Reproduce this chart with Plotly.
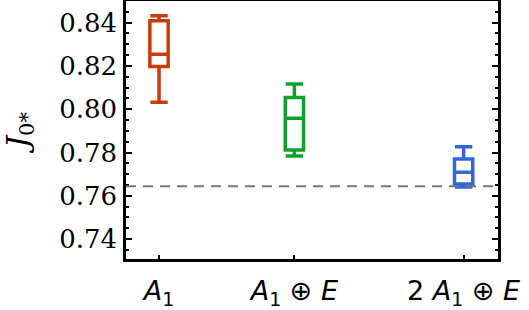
import plotly.graph_objects as go

# Data
categories = ["<i>A</i><sub>1</sub>", "<i>A</i><sub>1</sub> ⊕ <i>E</i>", "2 <i>A</i><sub>1</sub> ⊕ <i>E</i>"]
positions = [1.0, 2.0, 3.25]
lower = [0.8032, 0.7784, 0.7641]
q1 = [0.8197, 0.7812, 0.7654]
median = [0.8254, 0.7958, 0.7709]
q3 = [0.8409, 0.8054, 0.7770]
upper = [0.8432, 0.8117, 0.7827]
colors = ["#CC3C0A", "#10A02C", "#3366DD"]
ref_value = [0.7644]
y_ticks = [0.74, 0.76, 0.78, 0.80, 0.82, 0.84]

fig = go.Figure()
for i in range(len(categories)):
    fig.add_trace(go.Box(
        x=[positions[i]], q1=[q1[i]], median=[median[i]], q3=[q3[i]],
        lowerfence=[lower[i]], upperfence=[upper[i]],
        width=0.135, whiskerwidth=0.95, boxpoints=False,
        line=dict(color=colors[i], width=3.5), fillcolor="white",
        hoverinfo="skip",
    ))

fig.add_hline(y=ref_value[0], line=dict(color="#777777", width=2, dash="10px,7px"), layer="above")

fig.update_layout(
    width=529, height=310,
    margin=dict(l=126, r=31, t=1, b=51),
    paper_bgcolor="white", plot_bgcolor="white",
    showlegend=False,
)
fig.update_yaxes(
    automargin=False,
    range=[0.7308, 0.8500], tickvals=y_ticks, tickformat=".2f",
    ticks="inside", ticklen=6, tickwidth=2, tickcolor="black",
    minor=dict(ticks="inside", dtick=0.005, ticklen=3, tickwidth=2, tickcolor="black", showgrid=False),
    showline=True, linecolor="black", linewidth=2.5, mirror="ticks",
    showgrid=False, zeroline=False,
    tickfont=dict(family="DejaVu Serif", size=26, color="black"),
    ticklabelstandoff=1,
    title=dict(text="<i>J</i><sub>0*</sub>", font=dict(family="DejaVu Serif", size=30, color="black"), standoff=22),
)
fig.update_xaxes(
    automargin=False,
    range=[0.756, 3.504], tickvals=positions, ticktext=categories,
    ticks="inside", ticklen=4, tickwidth=2, tickcolor="black",
    showline=True, linecolor="black", linewidth=2.5, mirror=True,
    showgrid=False, zeroline=False,
    tickfont=dict(family="DejaVu Sans", size=27, color="black"),
    ticklabelstandoff=6,
)

fig.write_html("out.html", config={"displayModeBar": False},
               post_script="document.body.style.margin='0px';")
